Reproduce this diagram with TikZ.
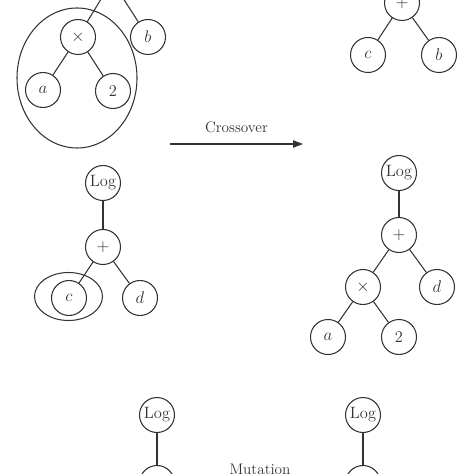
\documentclass[tikz,border=0pt]{standalone}
\usepackage{tikz}
\usetikzlibrary{arrows.meta,positioning}
\definecolor{treeink}{HTML}{333333}
\tikzset{
  vtx/.style={circle, draw=treeink, fill=white, text=treeink, line width=0.9pt, minimum size=10.5mm, inner sep=0pt, font=\fontsize{14}{16}\selectfont},
  link/.style={draw=treeink, line width=0.9pt},
  group/.style={draw=treeink, line width=0.9pt},
  flow/.style={-{Triangle[length=3mm, width=2.2mm]}, line width=0.9pt, draw=treeink},
  info/.style={font=\fontsize{13}{15}\selectfont, text=treeink}
}

\begin{document}
\begin{tikzpicture}[x=0.3mm, y=-0.3mm]
  \useasboundingbox (0,0) rectangle (474,474);
  \clip (0,0) rectangle (474,474);
  % parent 1, subtree marked
  \draw[group] (77,78) ellipse [x radius=60, y radius=70];
  \node[vtx] (r1) at (112,-19) {};
  \node[vtx] (m1) at (78,37) {$\times$};
  \node[vtx] (b1) at (148,37) {$b$};
  \node[vtx] (a1) at (43,90) {$a$};
  \node[vtx] (t1) at (113,91) {2};
  \draw[link] (r1) -- (m1);
  \draw[link] (r1) -- (b1);
  \draw[link] (m1) -- (a1);
  \draw[link] (m1) -- (t1);
  % offspring 1
  \node[vtx] (p2) at (402,3) {$+$};
  \node[vtx] (c2) at (368,55) {$c$};
  \node[vtx] (b2) at (439,55) {$b$};
  \draw[link] (p2) -- (c2);
  \draw[link] (p2) -- (b2);
  % crossover arrow
  \coordinate (cx0) at (170,144);
  \coordinate (cx1) at (303,144);
  \draw[flow] (cx0) -- node[above=2mm, info] {Crossover} (cx1);
  % parent 2, subtree marked
  \draw[group] (68.5,296.5) ellipse [x radius=34, y radius=24];
  \node[vtx] (l3) at (103,183) {Log};
  \node[vtx] (p3) at (103,247) {$+$};
  \node[vtx] (c3) at (69,298) {$c$};
  \node[vtx] (d3) at (140,298) {$d$};
  \draw[link] (l3) -- (p3);
  \draw[link] (p3) -- (c3);
  \draw[link] (p3) -- (d3);
  % offspring 2
  \node[vtx] (l4) at (399,173) {Log};
  \node[vtx] (p4) at (399,235) {$+$};
  \node[vtx] (m4) at (363,287) {$\times$};
  \node[vtx] (d4) at (437,287) {$d$};
  \node[vtx] (a4) at (328,337) {$a$};
  \node[vtx] (t4) at (399,337) {2};
  \draw[link] (l4) -- (p4);
  \draw[link] (p4) -- (m4);
  \draw[link] (p4) -- (d4);
  \draw[link] (m4) -- (a4);
  \draw[link] (m4) -- (t4);
  % mutation
  \node[vtx] (l5) at (157,415) {Log};
  \node[vtx] (x5) at (157,483) {};
  \node[vtx] (l6) at (363,415) {Log};
  \node[vtx] (x6) at (363,483) {};
  \draw[link] (l5) -- (x5);
  \draw[link] (l6) -- (x6);
  \node[info] (mut) at (260,469) {Mutation};
\end{tikzpicture}
\end{document}
